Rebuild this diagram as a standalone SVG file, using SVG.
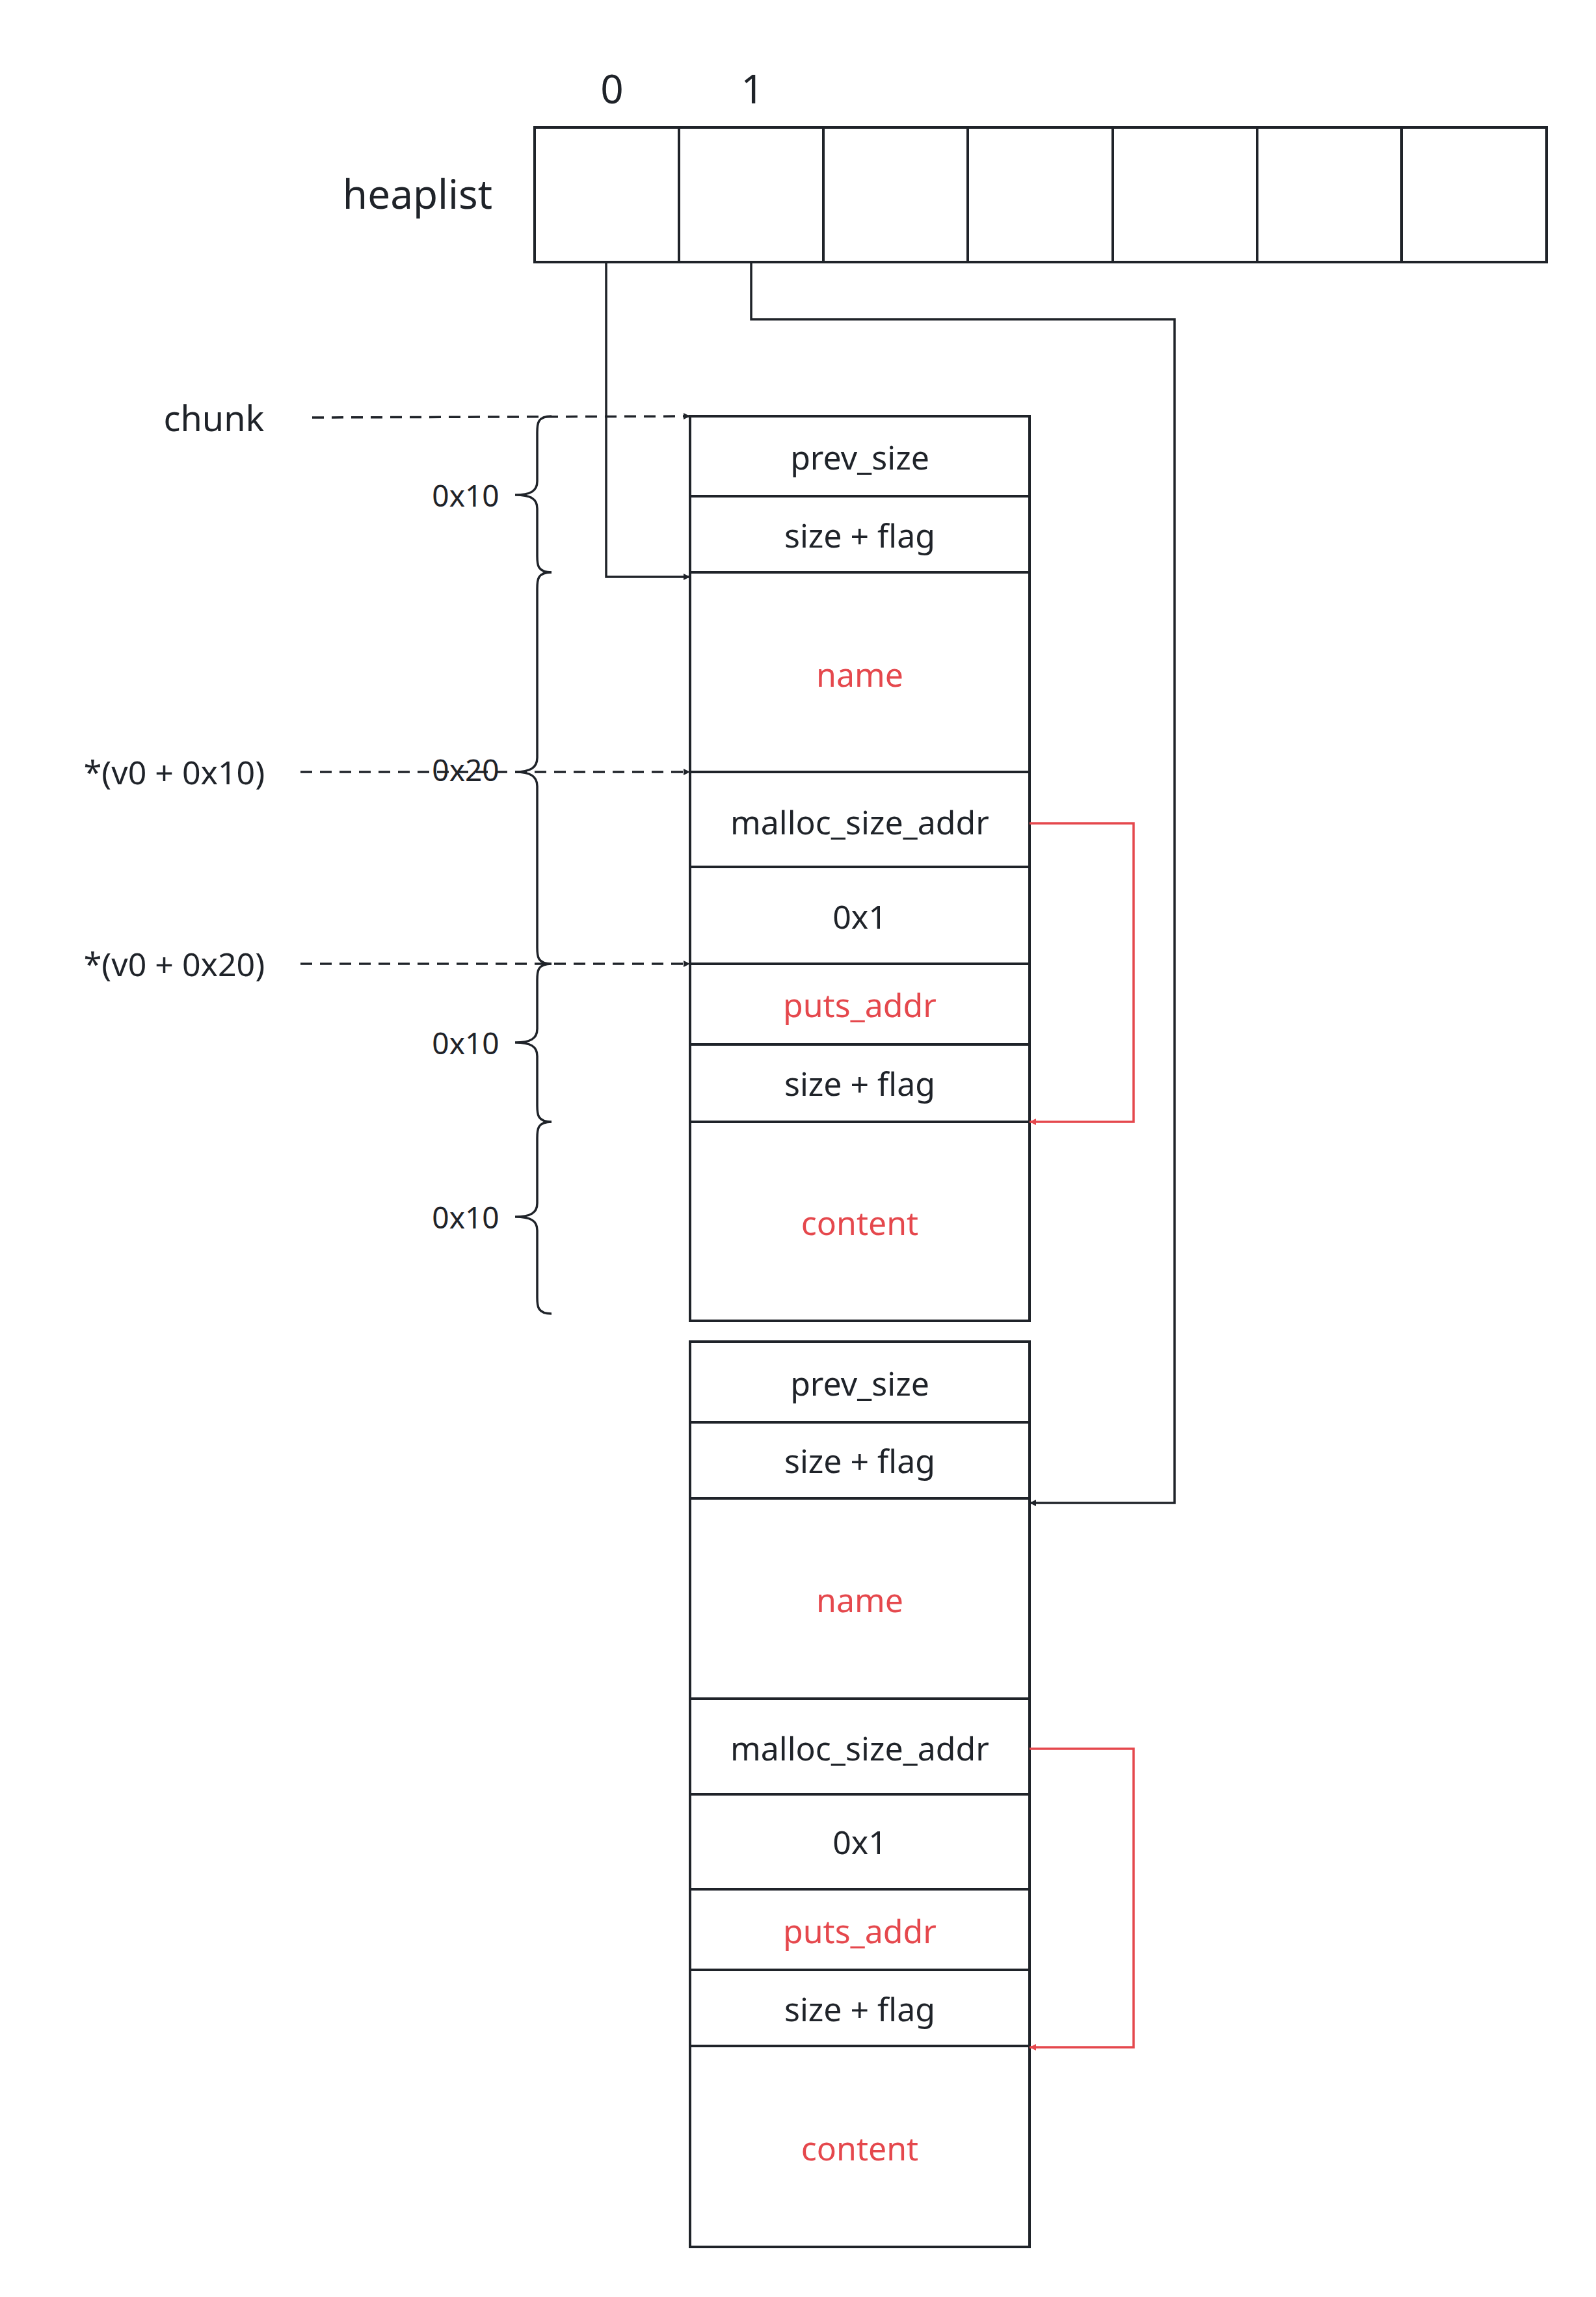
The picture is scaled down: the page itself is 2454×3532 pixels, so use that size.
<svg xmlns="http://www.w3.org/2000/svg" width="2454" height="3532" viewBox="0 0 2454 3532">
<style>
text{font-family:"Noto Sans","Open Sans","DejaVu Sans",sans-serif;fill:#1f2329;text-anchor:middle;dominant-baseline:central}
.t{font-size:50px}
.r{fill:#e5484d}
.box{fill:#fff;stroke:#1f2329;stroke-width:4}
.ln{stroke:#1f2329;stroke-width:4}
.c{fill:none;stroke:#1f2329;stroke-width:3.5}
.red{fill:none;stroke:#e5484d;stroke-width:3.5}
.d{fill:none;stroke:#1f2329;stroke-width:3.5;stroke-dasharray:18 12}
.b{fill:none;stroke:#1f2329;stroke-width:3.5}
</style>
<defs>
<marker id="a" viewBox="0 0 10 10" refX="10" refY="5" markerWidth="10" markerHeight="10" markerUnits="userSpaceOnUse" orient="auto"><path d="M0,0 L10,5 L0,10 z" fill="#1f2329"/></marker>
<marker id="ar" viewBox="0 0 10 10" refX="10" refY="5" markerWidth="10" markerHeight="10" markerUnits="userSpaceOnUse" orient="auto"><path d="M0,0 L10,5 L0,10 z" fill="#e5484d"/></marker>
</defs>
<rect width="2454" height="3532" fill="#fff"/>
<g id="heaplist">
<text x="642" y="297" font-size="62">heaplist</text>
<text x="941" y="135" font-size="62">0</text>
<text x="1157" y="135" font-size="62">1</text>
<rect class="box" x="822" y="196" width="1556" height="207"/>
<path class="ln" d="M1044,196V403M1266,196V403M1488,196V403M1711,196V403M1933,196V403M2155,196V403"/>
</g>
<g id="chunk1">
<rect class="box" x="1061" y="640" width="522" height="1391"/>
<path class="ln" d="M1061,763H1583M1061,880H1583M1061,1187H1583M1061,1333H1583M1061,1482H1583M1061,1606H1583M1061,1725H1583"/>
<text class="t" x="1322" y="703">prev_size</text>
<text class="t" x="1322" y="823">size + flag</text>
<text class="t r" x="1322" y="1037">name</text>
<text class="t" x="1322" y="1264">malloc_size_addr</text>
<text class="t" x="1322" y="1409">0x1</text>
<text class="t r" x="1322" y="1545">puts_addr</text>
<text class="t" x="1322" y="1666">size + flag</text>
<text class="t r" x="1322" y="1880">content</text>
</g>
<g id="chunk2">
<rect class="box" x="1061" y="2063" width="522" height="1392"/>
<path class="ln" d="M1061,2187H1583M1061,2304H1583M1061,2612H1583M1061,2759H1583M1061,2905H1583M1061,3029H1583M1061,3146H1583"/>
<text class="t" x="1322" y="2127">prev_size</text>
<text class="t" x="1322" y="2246">size + flag</text>
<text class="t r" x="1322" y="2460">name</text>
<text class="t" x="1322" y="2688">malloc_size_addr</text>
<text class="t" x="1322" y="2832">0x1</text>
<text class="t r" x="1322" y="2969">puts_addr</text>
<text class="t" x="1322" y="3089">size + flag</text>
<text class="t r" x="1322" y="3303">content</text>
</g>
<g id="labels">
<text x="329" y="642" font-size="54">chunk</text>
<text x="268" y="1187" font-size="50">*(v0 + 0x10)</text>
<text x="268" y="1482" font-size="50">*(v0 + 0x20)</text>
<text x="716" y="761" font-size="46">0x10</text>
<text x="716" y="1183" font-size="46">0x20</text>
<text x="716" y="1603" font-size="46">0x10</text>
<text x="716" y="1871" font-size="46">0x10</text>
</g>
<g id="braces">
<path class="b" d="M848,640C826,640 826,652 826,665L826,740C826,755 816,761 792,761C816,761 826,767 826,782L826,855C826,868 826,880 848,880"/>
<path class="b" d="M848,880C826,880 826,892 826,905L826,1165C826,1180 816,1187 792,1187C816,1187 826,1194 826,1209L826,1457C826,1470 826,1482 848,1482"/>
<path class="b" d="M848,1482C826,1482 826,1494 826,1507L826,1582C826,1597 816,1603 792,1603C816,1603 826,1609 826,1624L826,1700C826,1713 826,1725 848,1725"/>
<path class="b" d="M848,1725C826,1725 826,1737 826,1750L826,1850C826,1865 816,1871 792,1871C816,1871 826,1877 826,1892L826,1995C826,2008 826,2020 848,2020"/>
</g>
<g id="connectors">
<path class="c" d="M932,403V887H1061" marker-end="url(#a)"/>
<path class="c" d="M1155,403V491H1806V2311H1583" marker-end="url(#a)"/>
<path class="red" d="M1583,1266H1743V1725H1583" marker-end="url(#ar)"/>
<path class="red" d="M1583,2689H1743V3148H1583" marker-end="url(#ar)"/>
<path class="d" d="M480,642L1061,640" marker-end="url(#a)"/>
<path class="d" d="M462,1187H1061" marker-end="url(#a)"/>
<path class="d" d="M462,1482H1061" marker-end="url(#a)"/>
</g>
</svg>
